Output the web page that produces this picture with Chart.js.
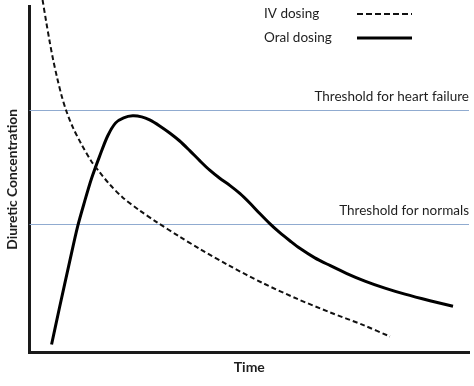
<!DOCTYPE html>
<html><head><meta charset="utf-8">
<script src="https://cdn.jsdelivr.net/npm/chart.js@4.4.0/dist/chart.umd.min.js"></script>
<style>html,body{margin:0;padding:0;background:#fff}#wrap{width:474px;height:386px}</style>
</head><body><div id="wrap"><canvas id="c" width="474" height="386"></canvas></div>
<script>
// ---- data ----
const seriesNames = ['IV dosing', 'Oral dosing'];
const ivTime   = [2.96, 3.76, 4.56, 5.35, 6.26, 7.29, 8.43, 9.86, 11.78, 14.05, 15.95, 18.22, 21.18, 25.06, 28.93, 34.17, 38.72, 45.56, 53.08, 60.82, 68.34, 75.85, 82.00];
const ivConc   = [101.74, 95.64, 89.83, 84.59, 79.36, 74.13, 69.48, 64.97, 60.17, 55.23, 52.03, 48.55, 44.77, 40.99, 37.65, 33.43, 29.94, 25.00, 20.06, 15.55, 11.63, 7.99, 4.65];
const oralTime = [5.01, 6.83, 9.11, 10.93, 12.53, 14.12, 15.95, 17.77, 19.59, 21.41, 23.46, 25.51, 27.33, 29.61, 31.89, 34.17, 36.45, 38.72, 41.00, 43.28, 45.56, 47.84, 50.11, 52.39, 54.67, 56.95, 59.23, 61.50, 64.92, 68.34, 72.21, 76.31, 80.87, 85.42, 91.12, 96.36];
const oralConc = [2.33, 13.08, 26.16, 36.34, 43.60, 50.29, 56.69, 62.50, 66.28, 67.73, 68.31, 68.02, 67.15, 65.41, 63.37, 61.05, 58.28, 55.38, 52.62, 50.29, 48.26, 45.93, 43.17, 40.12, 37.21, 34.59, 32.27, 30.09, 27.33, 25.15, 22.82, 20.64, 18.60, 16.86, 14.97, 13.37];
const thresholdNames  = ['Threshold for heart failure', 'Threshold for normals'];
const thresholdValues = [70, 37.2];
const axisTitleX = 'Time';
const axisTitleY = 'Diuretic Concentration';

const FONT = 'Lato, "Open Sans", sans-serif';
const TEXT = '#1e1e1e';

function pts(xs, ys) { return xs.map((x, i) => ({ x: x, y: ys[i] })); }

const thresholds = {
  id: 'thresholds',
  beforeDatasetsDraw(chart) {
    const ctx = chart.ctx, ca = chart.chartArea, ys = chart.scales.y;
    ctx.save();
    ctx.strokeStyle = '#90abd0';
    ctx.lineWidth = 1;
    thresholdValues.forEach(v => {
      const y = Math.round(ys.getPixelForValue(v)) + 0.5;
      ctx.beginPath();
      ctx.moveTo(ca.left, y);
      ctx.lineTo(ca.right, y);
      ctx.stroke();
    });
    ctx.restore();
  },
  afterDatasetsDraw(chart) {
    const ctx = chart.ctx, ca = chart.chartArea, ys = chart.scales.y;
    ctx.save();
    ctx.font = '13.5px ' + FONT;
    ctx.fillStyle = TEXT;
    ctx.textAlign = 'right';
    ctx.textBaseline = 'middle';
    thresholdNames.forEach((n, i) => {
      ctx.fillText(n, ca.right, ys.getPixelForValue(thresholdValues[i]) - 13);
    });
    // legend
    chart.data.datasets.forEach((d, i) => {
      const y = 14 + i * 24;
      ctx.textAlign = 'left';
      ctx.fillStyle = TEXT;
      ctx.fillText(d.label, 264, y);
      ctx.beginPath();
      ctx.setLineDash(d.borderDash ? [6, 3] : []);
      ctx.lineWidth = d.borderWidth;
      ctx.strokeStyle = d.borderColor;
      ctx.moveTo(357, y);
      ctx.lineTo(412, y);
      ctx.stroke();
    });
    ctx.restore();
  }
};

new Chart(document.getElementById('c'), {
  type: 'line',
  data: {
    datasets: [
      { label: seriesNames[0], data: pts(ivTime, ivConc), borderColor: '#111', borderWidth: 2,
        borderDash: [5, 3], pointRadius: 0, tension: 0.3, clip: false },
      { label: seriesNames[1], data: pts(oralTime, oralConc), borderColor: '#000', borderWidth: 3,
        pointRadius: 0, tension: 0.3 }
    ]
  },
  options: {
    responsive: false, animation: false, devicePixelRatio: 1,
    layout: { padding: { top: 6, right: 5, left: 4, bottom: 9 } },
    plugins: { legend: { display: false }, tooltip: { enabled: false } },
    scales: {
      x: {
        type: 'linear', min: 0, max: 100,
        grid: { display: false, drawTicks: false },
        ticks: { display: false },
        border: { display: true, color: '#1a1a1a', width: 3 },
        title: { display: true, text: axisTitleX, color: TEXT,
                 font: { family: FONT, size: 14, weight: 'bold' }, padding: { top: 6, bottom: 1.6 } }
      },
      y: {
        type: 'linear', min: 0, max: 100,
        grid: { display: false, drawTicks: false },
        ticks: { display: false },
        border: { display: true, color: '#1a1a1a', width: 3 },
        title: { display: true, text: axisTitleY, color: TEXT,
                 font: { family: FONT, size: 13.8, weight: 'bold' }, padding: { top: 0, bottom: 9 } }
      }
    }
  },
  plugins: [thresholds]
});
</script>
</body></html>
